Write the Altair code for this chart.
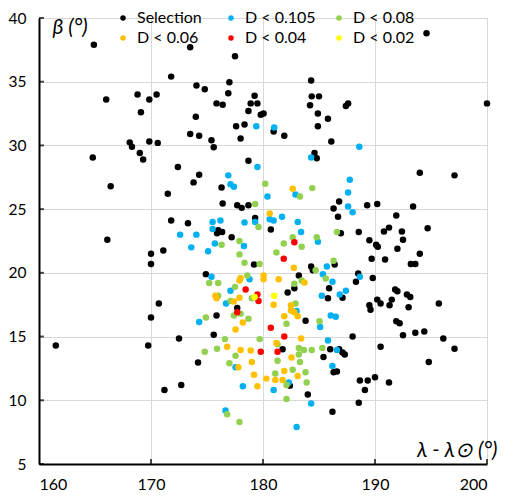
import altair as alt
import pandas as pd

# ---- data ----
sel_x = [164.9, 173.5, 177.5, 194.6, 171.8, 166.0, 168.8, 170.5, 169.85, 169.1, 168.1, 168.3, 169.85, 170.6,
         164.8, 169.0, 169.3, 172.4, 166.4, 173.5, 174.06, 174.8, 177.0, 176.9, 179.25, 175.85, 176.4, 178.9,
         179.5, 178.7, 179.8, 180.05, 174.0, 178.35, 177.6, 180.95, 181.9, 178.0, 174.3, 175.4, 175.6, 184.3,
         184.35, 185.0, 184.2, 184.9, 185.8, 184.9, 186.1, 184.6, 184.8, 178.7, 174.3, 173.8, 176.3, 200.0,
         187.4, 187.6, 194.0, 197.1, 166.1, 170.0, 170.0, 170.7, 170.0, 161.5, 169.75, 171.5, 176.4, 177.7,
         178.1, 178.7, 171.8, 173.3, 176.0, 176.35, 175.9, 177.2, 179.3, 171.1, 174.9, 175.85, 177.7, 179.2,
         186.8, 186.3, 186.7, 180.7, 186.95, 188.55, 184.3, 184.45, 186.4, 183.2, 188.5, 188.3, 185.9, 185.8,
         187.1, 182.8, 182.2, 183.8, 172.5, 175.6, 174.2, 172.7, 171.2, 181.75, 186.0, 186.8, 187.1, 187.3,
         185.4, 188.0, 186.3, 186.6, 182.4, 184.0, 186.2, 188.65, 188.55, 189.3, 190.2, 193.4, 191.9, 190.8,
         191.25, 192.4, 194.7, 189.5, 192.5, 190.1, 190.25, 192.0, 194.0, 189.7, 190.9, 193.2, 193.6, 189.8,
         191.8, 192.0, 192.85, 193.15, 190.2, 191.5, 190.5, 189.5, 189.6, 191.3, 193.0, 195.7, 191.9, 192.2,
         192.5, 193.6, 194.4, 196.1, 197.1, 190.5, 194.8, 189.35, 190.0, 191.25, 189.1]
sel_y = [37.9, 37.7, 37.0, 38.8, 35.4, 33.6, 34.0, 34.0, 33.6, 32.6, 30.24, 29.9, 30.3, 30.2,
         29.06, 29.4, 28.9, 28.3, 26.8, 30.9, 34.7, 34.4, 34.95, 34.1, 33.9, 33.3, 33.2, 33.3,
         33.3, 32.7, 32.4, 32.5, 32.25, 31.65, 31.5, 31.1, 30.76, 30.55, 30.76, 30.4, 29.85, 35.1,
         33.85, 33.85, 33.15, 32.5, 32.1, 31.5, 30.3, 29.4, 29.0, 28.8, 27.7, 27.1, 26.7, 33.3,
         33.1, 33.3, 27.85, 27.65, 22.6, 21.5, 20.7, 17.6, 16.5, 14.3, 14.3, 26.2, 25.45, 25.3,
         25.1, 25.3, 24.1, 23.9, 23.35, 23.2, 23.1, 22.8, 24.3, 21.75, 19.9, 16.65, 17.25, 20.65,
         25.6, 25.05, 24.4, 23.4, 23.1, 23.2, 20.5, 20.2, 20.65, 19.8, 19.95, 19.3, 18.8, 18.0,
         18.05, 18.8, 18.45, 16.25, 14.85, 15.15, 12.96, 11.2, 10.8, 14.0, 14.0, 14.0, 13.75, 13.6,
         13.4, 15.0, 12.2, 12.25, 11.15, 10.45, 9.1, 11.55, 9.8, 25.3, 25.4, 25.2, 24.5, 23.25,
         23.55, 23.25, 23.5, 22.55, 22.6, 22.2, 22.05, 21.9, 21.5, 21.1, 21.05, 20.7, 20.7, 19.6,
         18.7, 18.55, 18.3, 18.1, 17.9, 17.9, 17.6, 17.45, 17.1, 17.45, 17.3, 17.6, 16.2, 16.05,
         15.1, 15.3, 15.4, 14.85, 14.05, 14.2, 13.0, 11.55, 11.8, 11.4, 10.8]

d105_x = [179.4, 181.0, 184.3, 179.5, 176.9, 177.1, 177.4, 188.6, 187.75, 175.5, 176.2, 175.5, 178.35, 179.3,
          172.6, 174.05, 175.7, 173.6, 175.1, 178.3, 175.4, 177.1, 176.7, 178.8, 174.3, 180.4, 182.9, 187.6,
          187.6, 188.0, 181.7, 180.6, 180.95, 183.1, 183.4, 184.9, 185.7, 185.35, 186.2, 185.25, 186.85, 187.4,
          188.65, 186.05, 186.5, 183.0, 177.55, 178.2, 176.65, 185.1, 185.8, 186.6, 186.2, 182.3, 180.95, 184.3,
          183.0]
d105_y = [31.5, 31.4, 29.06, 28.3, 27.65, 26.96, 26.75, 29.9, 27.3, 24.0, 24.1, 23.45, 23.95, 24.0,
          23.0, 23.0, 22.3, 22.0, 21.7, 22.1, 19.7, 18.6, 17.6, 19.5, 16.15, 26.0, 26.15, 26.3,
          25.2, 24.75, 24.4, 24.2, 24.1, 24.0, 23.2, 22.45, 20.5, 19.9, 19.3, 18.2, 18.3, 18.6,
          19.7, 16.65, 16.55, 17.0, 12.6, 11.1, 9.2, 15.75, 14.7, 13.95, 12.7, 11.4, 10.8, 9.75,
          7.9]

d08_x = [180.2, 184.4, 179.3, 179.6, 177.9, 176.3, 177.9, 178.35, 179.7, 175.2, 176.0, 178.6, 177.5, 176.0,
         177.1, 179.0, 174.9, 177.4, 178.0, 178.7, 183.3, 182.65, 181.85, 183.45, 184.8, 186.6, 181.2, 186.3,
         184.7, 182.8, 183.45, 185.6, 182.9, 182.1, 185.05, 176.6, 174.8, 175.9, 177.55, 177.0, 176.8, 177.9,
         179.7, 181.3, 183.2, 183.65, 184.35, 183.2, 185.3, 181.3, 183.3, 182.65, 181.1, 183.8, 182.1, 183.9,
         182.1]
d08_y = [27.0, 26.65, 25.4, 23.6, 22.5, 22.2, 21.45, 20.8, 20.7, 19.2, 19.2, 19.8, 18.9, 18.2,
         17.8, 18.0, 16.5, 16.65, 16.8, 16.4, 26.0, 22.8, 22.3, 22.05, 22.8, 23.2, 21.6, 20.95,
         20.2, 19.15, 19.4, 19.55, 17.6, 16.0, 16.2, 14.8, 13.8, 14.05, 13.5, 12.9, 8.9, 8.3,
         14.8, 14.4, 14.1, 13.95, 13.95, 13.6, 14.1, 13.1, 13.0, 12.4, 12.1, 12.2, 11.2, 11.4,
         10.1]

d06_x = [182.65, 177.9, 178.0, 175.75, 175.85, 177.4, 177.9, 178.2, 177.55, 180.6, 182.75, 180.05, 180.05,
         181.4, 183.7, 180.95, 182.5, 182.5, 182.8, 183.1, 181.9, 176.8, 178.0, 178.9, 177.8, 179.0, 179.2,
         179.5, 183.4, 181.2, 182.55, 181.9, 183.1, 180.3, 181.1, 181.75]
d06_y = [26.6, 19.4, 19.6, 18.2, 18.0, 17.75, 18.05, 16.1, 15.55, 24.65, 20.4, 19.8, 19.5,
         19.5, 19.25, 17.5, 17.45, 17.05, 16.9, 16.6, 16.6, 14.2, 13.95, 13.9, 12.6, 13.0, 12.0,
         11.1, 14.85, 14.5, 13.35, 12.3, 11.9, 11.7, 11.6, 11.6]

d04_x = [178.45, 177.7, 179.5, 182.8, 181.85, 179.6, 180.7, 181.9, 179.8, 181.3]
d04_y = [18.7, 16.9, 18.3, 22.4, 21.1, 17.8, 15.7, 15.0, 13.8, 13.8]

d02_x = [179.25, 181.0]
d02_y = [18.1, 18.2]

names = ["Selection", "D < 0.105", "D < 0.08", "D < 0.06", "D < 0.04", "D < 0.02"]
colors = ["#000000", "#00B0F0", "#92D050", "#FFC000", "#FF0000", "#FFFF00"]

x_ticks = [160, 170, 180, 190, 200]
y_ticks = [5, 10, 15, 20, 25, 30, 35, 40]

series = [(sel_x, sel_y), (d105_x, d105_y), (d08_x, d08_y), (d06_x, d06_y), (d04_x, d04_y), (d02_x, d02_y)]
rows = []
for i, (xs_, ys_) in enumerate(series):
    for a, b in zip(xs_, ys_):
        rows.append({"lam": a, "beta": b, "series": names[i], "ord": i})
df = pd.DataFrame(rows)

FONT = "Lato"
xs = alt.Scale(domain=[160, 200], nice=False, zero=False)
ys = alt.Scale(domain=[5, 40], nice=False, zero=False)

common = dict(ticks=False, tickSize=0, domainColor="#000000", domainWidth=2,
              gridColor="#D9D9D9", gridWidth=1, labelFont=FONT,
              labelColor="#000000", titleFont=FONT, titleColor="#000000",
              titleFontSize=21, titleFontStyle="italic", titleFontWeight="normal")

x_axis = alt.Axis(values=x_ticks, title="λ - λ⊙ (°)", titleAlign="right",
                  titleX=458, titleY=-8, titleBaseline="alphabetic",
                  labelPadding=12, labelFontSize=16, **common)
y_axis = alt.Axis(values=y_ticks, title="β (°)", titleAngle=0, titleAlign="left",
                  titleBaseline="top", titleX=13, titleY=-2,
                  labelPadding=13, labelFontSize=15.5, **common)

points = alt.Chart(df).mark_circle(size=42, opacity=1).encode(
    x=alt.X("lam:Q", scale=xs, axis=x_axis),
    y=alt.Y("beta:Q", scale=ys, axis=y_axis),
    color=alt.Color("series:N", scale=alt.Scale(domain=names, range=colors),
                    legend=alt.Legend(title=None, orient="none", legendX=76, legendY=-8,
                                      columns=3, direction="horizontal", symbolType="circle",
                                      symbolSize=30, symbolStrokeWidth=0, labelFontSize=16,
                                      labelFont=FONT, labelOffset=6, columnPadding=15,
                                      rowPadding=4, gridAlign="all", padding=0,
                                      labelLimit=300)),
    order=alt.Order("ord:Q"),
)

ytick_df = pd.DataFrame({"v": y_ticks})
xtick_df = pd.DataFrame({"v": x_ticks[1:]})

yt = alt.Chart(ytick_df).mark_tick(orient="horizontal", size=5, thickness=2, color="#000000").encode(
    y=alt.Y("v:Q", scale=ys, axis=y_axis),
    x=alt.datum(160, scale=xs, axis=x_axis),
    xOffset=alt.value(2.5),
)
xt = alt.Chart(xtick_df).mark_tick(orient="vertical", size=5, thickness=2, color="#000000").encode(
    x=alt.X("v:Q", scale=xs, axis=x_axis),
    y=alt.datum(5, scale=ys, axis=y_axis),
    yOffset=alt.value(-2.5),
)

chart = alt.layer(points, yt, xt).properties(
    width=448, height=446,
    padding={"left": 31, "top": 10, "right": 20, "bottom": 40},
    autosize="none",
).configure_view(strokeWidth=0).configure(background="#ffffff")

chart.save("out.html", embed_options={"renderer": "svg", "actions": False})
